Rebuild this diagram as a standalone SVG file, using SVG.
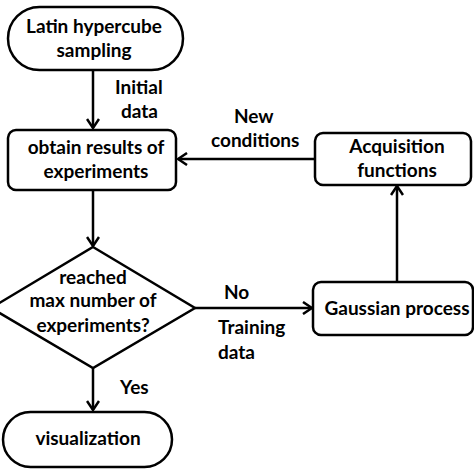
<svg xmlns="http://www.w3.org/2000/svg" width="474" height="474" viewBox="0 0 474 474">
<style>
.n{fill:#fff;stroke:#000;stroke-width:2.5}
.t{font-family:Lato,"Liberation Sans",sans-serif;font-weight:bold;font-size:19px;fill:#000;text-anchor:middle}
.l{font-family:Lato,"Liberation Sans",sans-serif;font-weight:bold;font-size:19px;fill:#000}
.c{fill:none;stroke:#000;stroke-width:2.5}
</style>
<defs>
<marker id="a" viewBox="0 0 12 14" refX="11" refY="7" markerWidth="12" markerHeight="14" markerUnits="userSpaceOnUse" orient="auto">
<path d="M2,1 L11,7 L2,13" fill="none" stroke="#000" stroke-width="2.5"/>
</marker>
</defs>
<rect width="474" height="474" fill="#fff"/>
<g id="connectors">
<line class="c" x1="93" y1="70" x2="93" y2="128" marker-end="url(#a)"/>
<line class="c" x1="93" y1="190" x2="93" y2="246" marker-end="url(#a)"/>
<line class="c" x1="195" y1="308" x2="312" y2="308" marker-end="url(#a)"/>
<line class="c" x1="397" y1="282" x2="397" y2="186" marker-end="url(#a)"/>
<line class="c" x1="315" y1="159" x2="178" y2="159" marker-end="url(#a)"/>
<line class="c" x1="93" y1="368" x2="93" y2="410" marker-end="url(#a)"/>
<text class="l" x="115" y="94">Initial</text>
<text class="l" x="121" y="118">data</text>
<text class="l" x="234" y="123">New</text>
<text class="l" x="211" y="147">conditions</text>
<text class="l" x="224" y="299">No</text>
<text class="l" x="218" y="334">Training</text>
<text class="l" x="218" y="359">data</text>
<text class="l" x="120" y="394">Yes</text>
</g>
<g id="lhs">
<rect class="n" x="8" y="7" width="175" height="63" rx="31.5"/>
<text class="t" x="94" y="33">Latin hypercube</text>
<text class="t" x="94" y="57">sampling</text>
</g>
<g id="obtain">
<rect class="n" x="8" y="130" width="168" height="60" rx="8"/>
<text class="t" x="96" y="154">obtain results of</text>
<text class="t" x="96" y="178">experiments</text>
</g>
<g id="decision">
<polygon class="n" points="93,247 195,308 93,368 -9,308"/>
<text class="t" x="93" y="284">reached</text>
<text class="t" x="93" y="307">max number of</text>
<text class="t" x="93" y="332">experiments?</text>
</g>
<g id="visualization">
<rect class="n" x="3" y="412" width="169" height="55" rx="27.5"/>
<text class="t" x="88" y="445">visualization</text>
</g>
<g id="acquisition">
<rect class="n" x="315" y="133" width="156" height="52" rx="8"/>
<text class="t" x="397" y="153">Acquisition</text>
<text class="t" x="397" y="177">functions</text>
</g>
<g id="gaussian">
<rect class="n" x="313" y="282" width="160" height="53" rx="8"/>
<text class="t" x="397" y="315">Gaussian process</text>
</g>
</svg>
